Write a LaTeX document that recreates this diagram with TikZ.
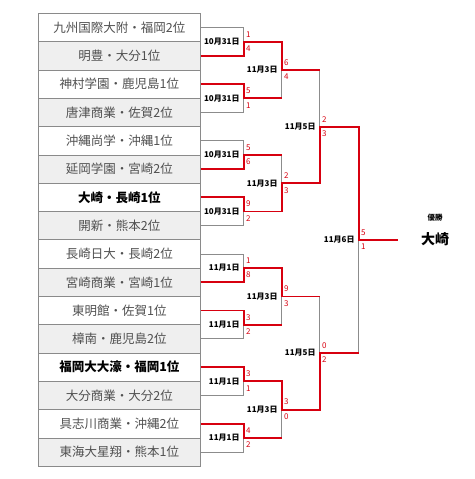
\documentclass[tikz,border=0pt]{standalone}
\usepackage{fontspec}
\setmainfont{Noto Sans CJK JP}
\usetikzlibrary{calc}
\definecolor{boxgray}{HTML}{8A8A8A}
\definecolor{rowgray}{HTML}{EFEFEF}
\definecolor{teamgray}{HTML}{505050}
\definecolor{wiregray}{HTML}{8C8C8C}
\definecolor{winred}{HTML}{D7000F}
\tikzset{
    team/.style={draw=boxgray, line width=0.8pt, minimum width=162pt, minimum height=28.3pt,
        inner sep=0pt, anchor=north west, font=\fontsize{12.5}{13}\selectfont},
    plain/.style={text=teamgray},
    strong/.style={text=black, font=\bfseries\fontsize{12.5}{13}\selectfont},
    wire/.style={draw=wiregray, line width=0.9pt},
    win/.style={draw=winred, line width=1.8pt},
    score/.style={text=winred, anchor=west, inner sep=0.5pt, font=\fontsize{8}{9}\selectfont},
    datelabel/.style={anchor=east, inner sep=0pt, font=\bfseries\fontsize{8}{9}\selectfont},
}
\begin{document}
\begin{tikzpicture}[x=1pt,y=-1pt]
    \useasboundingbox (0,0) rectangle (474,479);

    \foreach \name/\kind [count=\i] in {九州国際大附・福岡2位/plain, 明豊・大分1位/plain,
        神村学園・鹿児島1位/plain, 唐津商業・佐賀2位/plain, 沖縄尚学・沖縄1位/plain,
        延岡学園・宮崎2位/plain, 大崎・長崎1位/strong, 開新・熊本2位/plain,
        長崎日大・長崎2位/plain, 宮崎商業・宮崎1位/plain, 東明館・佐賀1位/plain,
        樟南・鹿児島2位/plain, 福岡大大濠・福岡1位/strong, 大分商業・大分2位/plain,
        具志川商業・沖縄2位/plain, 東海大星翔・熊本1位/plain} {
        \pgfmathtruncatemacro\shade{100*(1-mod(\i,2))}
        \node [team, \kind, fill=rowgray!\shade!white] (t\i) at (38,{13+28.3*(\i-1)}) {\name};
    }

    % first round
    \foreach \k in {1,...,8} {
        \pgfmathtruncatemacro\a{2*\k-1}
        \pgfmathtruncatemacro\b{2*\k}
        \coordinate (m1-\k) at ($(t\a.east)!0.5!(t\b.east)+(43,0)$);
        \draw [wire] (t\a.east) -| (m1-\k) |- (t\b.east);
    }
    \foreach \j in {1,...,4} {
        \pgfmathtruncatemacro\a{2*\j-1}
        \pgfmathtruncatemacro\b{2*\j}
        \coordinate (m2-\j) at ($(m1-\a)!0.5!(m1-\b)+(38,0)$);
        \draw [wire] (m1-\a) -| (m2-\j) |- (m1-\b);
    }
    \foreach \j in {1,2} {
        \pgfmathtruncatemacro\a{2*\j-1}
        \pgfmathtruncatemacro\b{2*\j}
        \coordinate (m3-\j) at ($(m2-\a)!0.5!(m2-\b)+(38,0)$);
        \draw [wire] (m2-\a) -| (m3-\j) |- (m2-\b);
    }
    \coordinate (m4) at ($(m3-1)!0.5!(m3-2)+(39,0)$);
    \coordinate (champ) at ($(m4)+(39,0)$);
    \draw [wire] (m3-1) -| (m4) |- (m3-2);

    % winners
    \draw [win] (t2.east) -| (m1-1) -| (m2-1) -- (m2-1 -| m3-1);
    \draw [win] (t3.east) -| (m1-2) -- (m1-2 -| m2-1);
    \draw [win] (t6.east) -| (m1-3) -- (m1-3 -| m2-2);
    \draw [win] (t7.east) -| (m1-4) -| (m2-2) -| (m3-1) -| (m4) -- (champ);
    \draw [win] (t10.east) -| (m1-5) -| (m2-3) -- (m2-3 -| m3-2);
    \draw [win] (t11.east) -| (m1-6) -- (m1-6 -| m2-3);
    \draw [win] (t13.east) -| (m1-7) -| (m2-4) -| (m3-2) -- (m3-2 -| m4);
    \draw [win] (t15.east) -| (m1-8) -- (m1-8 -| m2-4);

    % scores and dates
    \foreach \m/\p/\q/\d in {m1-1/1/4/10月31日, m1-2/5/1/10月31日, m1-3/5/6/10月31日,
        m1-4/9/2/10月31日, m1-5/1/8/11月1日, m1-6/3/2/11月1日, m1-7/3/1/11月1日,
        m1-8/4/2/11月1日, m2-1/6/4/11月3日, m2-2/2/3/11月3日, m2-3/9/3/11月3日,
        m2-4/3/0/11月3日, m3-1/2/3/11月5日, m3-2/0/2/11月5日, m4/5/1/11月6日} {
        \node [score] (\m a) at ($(\m)+(1.5,-7.5)$) {\p};
        \node [score] (\m b) at ($(\m)+(1.5,7)$) {\q};
        \node [datelabel] (\m d) at ($(\m)+(-4,0)$) {\d};
    }

    \node [font=\bfseries\fontsize{7.5}{8}\selectfont] (title) at (435,218) {優勝};
    \node [font=\bfseries\fontsize{14}{15}\selectfont] (winner) at (435,239) {大崎};
\end{tikzpicture}
\end{document}
